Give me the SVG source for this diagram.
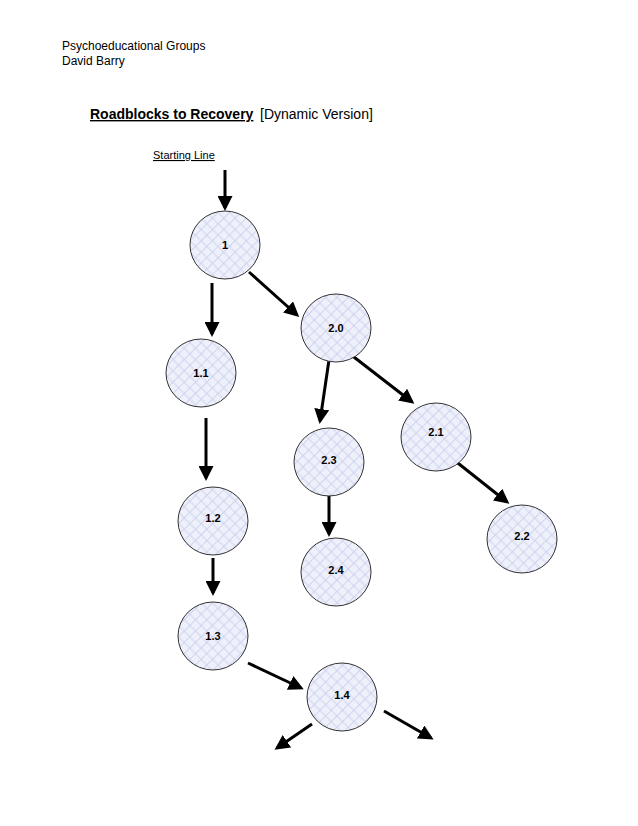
<svg xmlns="http://www.w3.org/2000/svg" width="638" height="826" viewBox="0 0 638 826">
<style>
text{font-family:"Liberation Sans",Arial,sans-serif;fill:#000}
.n ellipse{fill:url(#hatch);stroke:#333;stroke-width:1}
.n text{font-size:11px;font-weight:bold;text-anchor:middle}
.c line{stroke:#000;stroke-width:3;marker-end:url(#ah)}
</style>
<defs>
<pattern id="hatch" width="8" height="8" patternUnits="userSpaceOnUse" patternTransform="rotate(45)">
<rect width="8" height="8" fill="#eef0fa"/>
<line x1="0" y1="0" x2="0" y2="8" stroke="#b4b8e6" stroke-width="1"/>
<line x1="0" y1="4" x2="8" y2="4" stroke="#c8cbee" stroke-width="0.8"/>
</pattern>
<marker id="ah" markerWidth="5" markerHeight="5" refX="4" refY="2.5" orient="auto" markerUnits="strokeWidth">
<path d="M0,0 L5,2.5 L0,5 Z" fill="#000"/>
</marker>
</defs>
<rect width="638" height="826" fill="#fff"/>
<text x="62" y="50" font-size="12">Psychoeducational Groups</text>
<text x="62" y="65" font-size="12">David Barry</text>
<text x="90" y="119" font-size="14" font-weight="bold" text-decoration="underline">Roadblocks to Recovery</text>
<text x="260" y="119" font-size="14" fill="#333">[Dynamic Version]</text>
<text x="153" y="159" font-size="11" text-decoration="underline">Starting Line</text>
<g class="c" id="connectors">
<line x1="225" y1="170" x2="225" y2="208"/>
<line x1="249" y1="272" x2="297" y2="315"/>
<line x1="212" y1="283" x2="212" y2="334"/>
<line x1="329" y1="360" x2="320" y2="421"/>
<line x1="350" y1="354" x2="412" y2="402"/>
<line x1="206" y1="418" x2="206" y2="478"/>
<line x1="454" y1="460" x2="507" y2="502"/>
<line x1="329" y1="494" x2="329" y2="534"/>
<line x1="213" y1="558" x2="213" y2="593"/>
<line x1="248" y1="663" x2="301" y2="688"/>
<line x1="312" y1="724" x2="277" y2="748"/>
<line x1="384" y1="711" x2="431" y2="738"/>
</g>
<g class="n" id="n1"><ellipse cx="225" cy="245" rx="35" ry="34"/><text x="225" y="249">1</text></g>
<g class="n" id="n20"><ellipse cx="336" cy="328" rx="35" ry="34"/><text x="336" y="332">2.0</text></g>
<g class="n" id="n11"><ellipse cx="201" cy="373" rx="35" ry="34"/><text x="201" y="377">1.1</text></g>
<g class="n" id="n21"><ellipse cx="436" cy="437" rx="35" ry="34"/><text x="436" y="436">2.1</text></g>
<g class="n" id="n23"><ellipse cx="329" cy="462" rx="35" ry="34"/><text x="329" y="464">2.3</text></g>
<g class="n" id="n12"><ellipse cx="213" cy="521" rx="35" ry="34"/><text x="213" y="522">1.2</text></g>
<g class="n" id="n22"><ellipse cx="522" cy="539" rx="35" ry="34"/><text x="522" y="540">2.2</text></g>
<g class="n" id="n24"><ellipse cx="336" cy="572" rx="35" ry="34"/><text x="336" y="574">2.4</text></g>
<g class="n" id="n13"><ellipse cx="213" cy="636" rx="35" ry="34"/><text x="213" y="640">1.3</text></g>
<g class="n" id="n14"><ellipse cx="342" cy="697" rx="35" ry="34"/><text x="342" y="699">1.4</text></g>
</svg>
